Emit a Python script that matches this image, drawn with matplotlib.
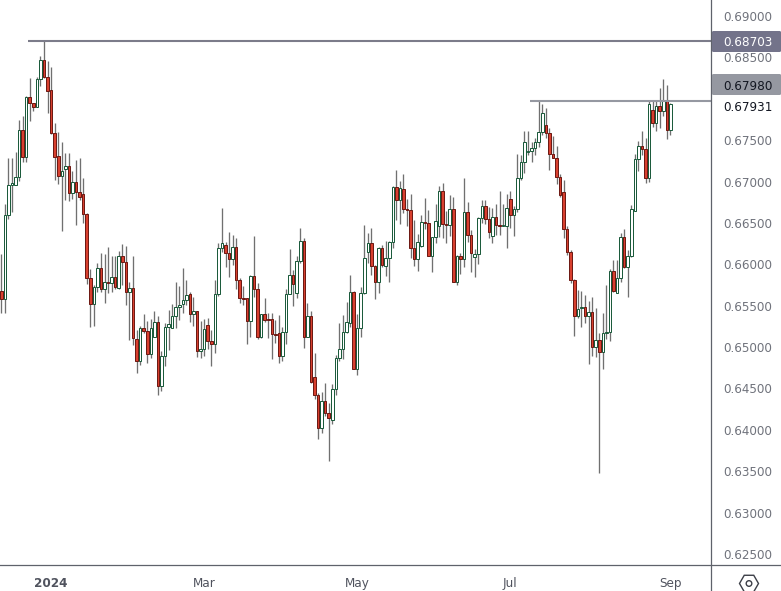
import matplotlib
matplotlib.use("Agg")
import matplotlib.pyplot as plt
from matplotlib.patches import RegularPolygon, Circle, FancyBboxPatch
from matplotlib.lines import Line2D

W, H = 781, 591
opens = [65677,65580,66596,66958,66958,67055,67622,67296,68021,67949,67900,68238,68468,68262,68106,67586,67308,67067,67151,67188,66861,66994,66873,66849,66608,65834,65520,65725,65955,65701,65786,65774,65846,65713,66100,66028,65665,65713,65097,64831,65230,65194,64916,65121,65303,64530,64892,65242,65230,65375,65484,65520,65568,65641,65400,65436,64952,64976,65266,65073,65037,65641,66197,66233,66136,66064,66209,65810,65593,65593,65315,65858,65701,65121,65400,65339,65339,65158,65170,64892,65182,65641,65870,65653,66040,66281,65121,65375,64639,64420,64022,64348,64203,64118,64493,64868,64976,65182,65291,65665,64735,65230,65653,66148,66257,65979,65786,66197,65979,66076,66269,66934,66777,66910,66668,66656,66197,66064,66221,66511,66499,66100,66330,66463,66885,66487,66475,66668,65786,66100,66064,66632,66354,66088,66124,66559,66704,66547,66342,66571,66475,66463,66463,66789,66596,66668,67042,67236,67357,67369,67405,67477,67598,67683,67586,67333,67284,67055,66873,66426,66148,65810,65375,65472,65484,65375,65424,65001,65085,64940,65170,65182,65919,65653,65834,66330,65967,66100,66644,67272,67429,67393,67042,67864,67707,67912,67852,67985,67622]
highs = [66124,66729,67284,67284,67357,67743,67791,68033,68250,67949,68262,68516,68703,68456,68383,67707,67598,67477,67345,67345,67127,67260,67284,67042,66620,65943,65750,66015,66136,66124,66209,66100,66100,66160,66245,66221,65786,66100,65206,65254,65400,65315,65339,65436,65375,64952,65291,65448,65520,65786,65738,65955,65810,65665,65604,65436,65315,65339,65351,65206,65810,66257,66680,66269,66390,66354,66317,65834,65738,65593,65870,66342,65774,65400,65593,65412,65412,65327,65387,65242,65701,66185,65931,66100,66438,66317,65532,65436,64928,64445,64457,64566,64324,64554,64904,65291,65387,65544,65870,65677,65400,65725,66475,66378,66438,65991,66209,66233,66281,66281,66946,67139,67006,67091,66789,66849,66535,66366,66596,66801,66656,66330,66729,66946,66982,66644,66837,66813,66112,66136,67042,66753,66414,66185,66571,66777,66777,66692,66680,66729,66885,66729,66849,66885,66704,67333,67320,67610,67610,67477,67526,67985,67937,67888,67646,67550,67429,67091,67018,66463,66172,65822,65689,65677,65629,65556,65604,65472,65170,65412,65750,65943,66052,66052,66378,66426,66172,66717,67333,67489,67610,67526,67985,67973,67973,68130,68238,68166,67949]
lows = [65412,65412,66547,66632,66958,67006,67236,67236,67731,67852,67900,68154,68250,67828,67574,67018,66970,66402,66777,66765,66789,66475,66777,66499,65762,65242,65254,65665,65665,65532,65653,65665,65701,65701,65750,65508,65085,65025,64687,64783,65170,64807,64868,65121,64420,64469,64771,64964,65230,65230,65327,65412,65508,65303,65254,64880,64868,64892,64976,64771,64928,65617,66148,65967,65846,65991,65701,65532,65508,65037,65121,65604,65097,65109,65303,65109,64855,65049,64807,64831,65037,65641,65496,65593,66015,64988,65121,64566,64372,63889,63962,64166,63623,64070,64420,64831,64855,65170,65242,64735,64663,65121,65641,66015,65870,65580,65653,65967,65858,65786,66197,66535,66487,66620,66463,66076,65979,65919,66209,66426,66100,65907,66257,66330,66317,66257,66342,65786,65750,65882,65967,66269,65907,65846,66003,66499,66487,66317,66257,66354,66354,66463,66197,66438,66342,66632,67018,67103,67320,67236,67320,67417,67562,67526,67139,67284,66970,66813,66317,66112,65774,65133,65351,65242,65291,64795,64892,64880,63478,64735,65097,65073,65665,65653,65786,65955,65604,66088,66644,67127,67320,66982,66994,67658,67610,67646,67791,67514,67562]
closes = [65580,66596,66958,66982,67055,67622,67296,68021,67949,67900,68238,68468,68262,68094,67586,67296,67067,67127,67188,66861,66994,66873,66813,66608,65834,65520,65725,65955,65701,65786,65774,65846,65725,66100,66028,65665,65713,65109,64831,65230,65194,64916,65230,65303,64530,64892,65242,65279,65375,65484,65508,65568,65629,65400,65436,64952,64976,65218,65073,65037,65641,66197,66257,66136,66064,66209,65810,65593,65580,65315,65858,65701,65121,65400,65327,65327,65158,65146,64892,65182,65641,65870,65762,66040,66281,65121,65375,64578,64420,64022,64348,64203,64142,64493,64868,64976,65182,65303,65665,64735,65230,65653,66076,66257,65979,65786,66197,65991,66076,66269,66934,66777,66922,66668,66656,66197,66064,66269,66511,66499,66100,66330,66523,66885,66487,66475,66668,65786,66100,66064,66632,66354,66136,66124,66559,66704,66547,66390,66571,66475,66463,66475,66680,66596,66668,67042,67236,67477,67369,67405,67477,67598,67828,67586,67333,67284,67055,66837,66426,66148,65810,65375,65460,65484,65375,65424,65001,65085,64940,65170,65182,65919,65677,65834,66330,65967,66100,66668,67272,67429,67393,67042,67937,67707,67912,67852,67985,67622,67931]

y_ticks = [0.625, 0.630, 0.635, 0.640, 0.645, 0.650, 0.655, 0.660, 0.665, 0.670, 0.675, 0.685, 0.690]
y_tick_labels = ["0.62500", "0.63000", "0.63500", "0.64000", "0.64500", "0.65000", "0.65500",
                 "0.66000", "0.66500", "0.67000", "0.67500", "0.68500", "0.69000"]
x_ticks = [14, 57, 100, 143, 188]
x_tick_labels = ["2024", "Mar", "May", "Jul", "Sep"]
level_high = 0.68703
level_high_start = 7.5
level_mid = 0.67980
level_mid_start = 148.5

UP_EDGE, DOWN_EDGE = "#1c5b3c", "#6e1a14"
DOWN_FILL = "#d8402f"
WICK = "#707070"
AXIS = "#5f626b"
TEXT = "#70737c"

fig = plt.figure(figsize=(W / 100, H / 100), dpi=100, facecolor="white")
ax = fig.add_axes([0, 26 / H, 711 / W, 565 / H])
ax.set_xlim(-0.365, 199.4)
ax.set_ylim(0.62367, 0.69193)

for i, (o, h, l, c) in enumerate(zip(opens, highs, lows, closes)):
    o, h, l, c = o / 1e5, h / 1e5, l / 1e5, c / 1e5
    ax.vlines(i, l, h, color=WICK, lw=0.95, zorder=2)
    up = c >= o
    ax.bar(i, abs(c - o), bottom=min(o, c), width=0.72,
           facecolor="white" if up else DOWN_FILL,
           edgecolor=UP_EDGE if up else DOWN_EDGE, linewidth=0.72, zorder=3)

ax.plot([level_high_start, 199.4], [level_high] * 2, color="#7c7c8a", lw=1.5, zorder=4, solid_capstyle="butt")
ax.plot([level_mid_start, 199.4], [level_mid - 0.00013] * 2, color="#9598a1", lw=1.5, zorder=4, solid_capstyle="butt")

for s in ["top", "left", "right", "bottom"]:
    ax.spines[s].set_visible(False)

ax.yaxis.tick_right()
ax.set_yticks(y_ticks)
ax.set_yticklabels(y_tick_labels, fontsize=8.64, color=TEXT)
ax.tick_params(axis="y", length=0, pad=8.6)
ax.set_xticks(x_ticks)
ax.set_xticklabels(x_tick_labels, fontsize=8.64, color="#50535e")
ax.tick_params(axis="x", length=0, pad=8.5)
ax.get_xticklabels()[0].set_fontweight("bold")

def px(x, y):
    return x / W, 1 - y / H

# Scale borders run to the edges of the picture
fig.add_artist(Line2D([710.6 / W] * 2, [0, 1], color=AXIS, lw=0.9, zorder=4))
fig.add_artist(Line2D([0, 1], [1 - 564.6 / H] * 2, color=AXIS, lw=0.9, zorder=4))

# Price badges and labels on the scale
for y0, y1, fill, label, col in [(31, 52, "#73738a", "0.68703", "white"),
                                 (74, 95, "#9598a1", "0.67980", "#131722")]:
    fx, fy = px(712, y1)
    fig.add_artist(FancyBboxPatch((fx, fy), 69 / W, (y1 - y0) / H,
                                  boxstyle="round,pad=0,rounding_size=0.002",
                                  transform=fig.transFigure, facecolor=fill, edgecolor="none", zorder=5))
    fig.text(*px(723, (y0 + y1) / 2), label, color=col, fontsize=8.64, ha="left", va="center_baseline", zorder=6)
fig.text(*px(723, 106), "0.67931", color="#131722", fontsize=8.64, ha="left", va="center_baseline", zorder=6)

# Settings icon in the corner
icon = fig.add_axes([0, 0, 1, 1], facecolor="none")
icon.set_xlim(0, W)
icon.set_ylim(H, 0)
icon.axis("off")
icon.add_patch(RegularPolygon((749, 583.5), 6, radius=9.5, orientation=0.5236, fill=False, ec="#3c3f48", lw=1.0))
icon.add_patch(Circle((749, 583.5), 2.8, fill=False, ec="#3c3f48", lw=1.0))

fig.savefig("out.png", dpi=100, facecolor="white")
